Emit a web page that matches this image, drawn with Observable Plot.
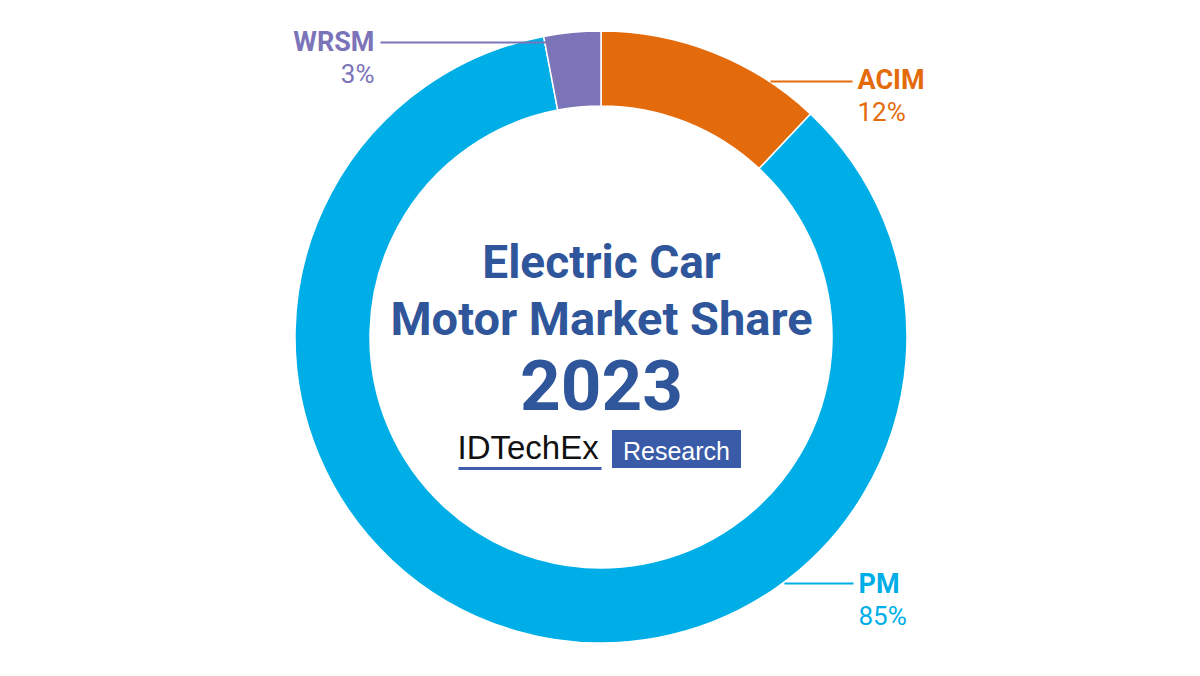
<!DOCTYPE html>
<html><head><meta charset="utf-8">
<script src="https://cdn.jsdelivr.net/npm/d3@7"></script>
<script src="https://cdn.jsdelivr.net/npm/@observablehq/plot@0.6"></script>
<style>html,body{margin:0;padding:0;background:#fff} svg{display:block}</style>
</head><body><div id="chart"></div>
<script>
// ---- data ----
const categories = ["ACIM", "PM", "WRSM"];
const shares = [12, 85, 3];
const shareLabels = ["12%", "85%", "3%"];
const colors = ["#E46B0C", "#00AEE7", "#7C74B8"];
const titleLines = ["Electric Car", "Motor Market Share", "2023"];
const brand = ["IDTechEx", "Research"];

// ---- layout ----
const W = 1200, H = 676;
const cx = 601, cy = 337, rOuter = 306, rInner = 231;
const labelLayout = {
  ACIM: {x: 857, y: 88, anchor: "start", lineX1: 770, lineX2: 852, lineY: 81},
  PM:   {x: 858, y: 592, anchor: "start", lineX1: 784, lineX2: 853, lineY: 583},
  WRSM: {x: 374, y: 50, anchor: "end", lineX1: 380, lineX2: 552, lineY: 42}
};
const titleY = [277, 334, 409];
const titleSize = [46, 47, 71];
const navy = "#2F559B";

const slices = categories.map((c, i) => ({category: c, share: shares[i], label: shareLabels[i], color: colors[i], ...labelLayout[c]}));

const donut = (index, scales) => {
  const pie = d3.pie().sort(null).value(d => d.share)(slices);
  const arc = d3.arc().innerRadius(rInner).outerRadius(rOuter);
  const g = d3.create("svg:g").attr("transform", `translate(${scales.x(cx)},${scales.y(cy)})`);
  g.selectAll("path").data(pie).join("path")
    .attr("d", arc)
    .attr("fill", d => d.data.color)
    .attr("stroke", "#fff")
    .attr("stroke-width", 1.5);
  return g.node();
};

const titles = titleLines.map((t, i) => ({text: t, y: titleY[i], size: titleSize[i]}));

const chart = Plot.plot({
  width: W, height: H,
  margin: 0,
  x: {type: "identity", axis: null},
  y: {type: "identity", axis: null},
  style: {background: "#fff"},
  marks: [
    donut,
    Plot.link(slices, {x1: "lineX1", x2: "lineX2", y1: "lineY", y2: "lineY", stroke: "color", strokeWidth: 2}),
    ...slices.map(s => Plot.text([s], {x: "x", y: "y", text: "category", fill: "color", textAnchor: s.anchor, lineAnchor: "bottom",
      fontFamily: "Roboto", fontWeight: "bold", fontSize: 27})),
    ...slices.map(s => Plot.text([s], {x: "x", y: d => d.y + 32, text: "label", fill: "color", textAnchor: s.anchor, lineAnchor: "bottom",
      fontFamily: "Roboto", fontWeight: "normal", fontSize: 26})),
    ...titles.map(t => Plot.text([t], {x: cx, y: "y", text: "text", fill: navy, textAnchor: "middle", lineAnchor: "bottom",
      fontFamily: "Roboto", fontWeight: "bold", fontSize: t.size})),
    Plot.text([brand[0]], {x: 457, y: 458, text: d => d, fill: "#111", textAnchor: "start", lineAnchor: "bottom",
      fontFamily: "Liberation Sans", fontSize: 33}),
    Plot.link([0], {x1: 458, x2: 601, y1: 468, y2: 468, stroke: "#3F5DAA", strokeWidth: 3}),
    Plot.rect([0], {x1: 612, x2: 741, y1: 430, y2: 468, fill: "#3A5BA8"}),
    Plot.text([brand[1]], {x: 676, y: 459, text: d => d, fill: "#fff", textAnchor: "middle", lineAnchor: "bottom",
      fontFamily: "Liberation Sans", fontSize: 25})
  ]
});
document.getElementById("chart").appendChild(chart);
</script>
</body></html>
